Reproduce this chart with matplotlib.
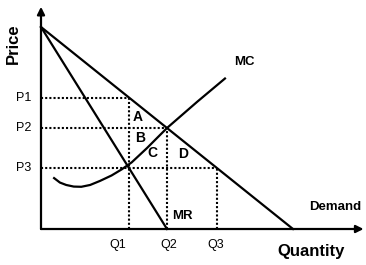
import matplotlib.pyplot as plt

plt.rcParams['font.family'] = ['Liberation Sans', 'DejaVu Sans']

# =========================
# DATA
# =========================
demand_x = [0, 10]
demand_y = [10, 0]
mr_x = [0, 5]
mr_y = [10, 0]
mc_x = [0.52, 0.75, 1.0, 1.3, 1.6, 1.95, 2.34, 2.8, 3.2, 3.6, 4.2, 5.0, 6.2, 7.3]
mc_y = [2.52, 2.3, 2.18, 2.1, 2.09, 2.18, 2.38, 2.65, 2.95, 3.3, 4.0, 5.0, 6.3, 7.45]

price_labels = ['P1', 'P2', 'P3']
price_levels = [6.5, 5.0, 3.0]
qty_labels = ['Q1', 'Q2', 'Q3']
qty_levels = [3.5, 5.0, 7.0]

# =========================
# PLOT
# =========================
fig = plt.figure(figsize=(3.66, 2.65), dpi=100)
ax = fig.add_axes([0, 0, 1, 1])
ax.set_xlim(-1.627, 12.897)
ax.set_ylim(-1.782, 11.337)
ax.axis('off')

# axes with arrows
arrow = dict(arrowstyle='-|>', lw=1.6, color='black', mutation_scale=11,
             shrinkA=0, shrinkB=0)
ax.annotate('', xy=(0, 11.0), xytext=(0, 0), arrowprops=arrow)
ax.annotate('', xy=(12.8, 0), xytext=(0, 0), arrowprops=arrow)

# curves
ax.plot(demand_x, demand_y, color='black', lw=1.6)
ax.plot(mr_x, mr_y, color='black', lw=1.6)
ax.plot(mc_x, mc_y, color='black', lw=1.6, solid_joinstyle='round')

# dotted guides
dot = dict(color='black', lw=1.5, linestyle=(0, (1, 1)))
for p, q in zip(price_levels, qty_levels):
    ax.plot([0, q], [p, p], **dot)
    ax.plot([q, q], [0, p], **dot)

# tick labels
for lab, p in zip(price_labels, price_levels):
    ax.text(-0.38, p, lab, ha='right', va='center', fontsize=9)
for lab, q, dx in zip(qty_labels, qty_levels, [-0.45, 0.05, -0.05]):
    ax.text(q + dx, -0.8, lab, ha='center', va='center', fontsize=9)

# axis titles
ax.text(-1.1, 9.16, 'Price', rotation=90, ha='center', va='center',
        fontsize=12, fontweight='bold')
ax.text(10.71, -1.1, 'Quantity', ha='center', va='center',
        fontsize=12, fontweight='bold')

# curve labels
ax.text(8.06, 8.27, 'MC', ha='center', va='center', fontsize=9.5, fontweight='bold')
ax.text(5.6, 0.64, 'MR', ha='center', va='center', fontsize=9.5, fontweight='bold')
ax.text(11.67, 1.09, 'Demand', ha='center', va='center', fontsize=9.5, fontweight='bold')

# area labels
for lab, x, y in [('A', 3.85, 5.54), ('B', 3.93, 4.5), ('C', 4.4, 3.76), ('D', 5.63, 3.71)]:
    ax.text(x, y, lab, ha='center', va='center', fontsize=10, fontweight='bold')

plt.savefig('out.png', dpi=100)
plt.close()
